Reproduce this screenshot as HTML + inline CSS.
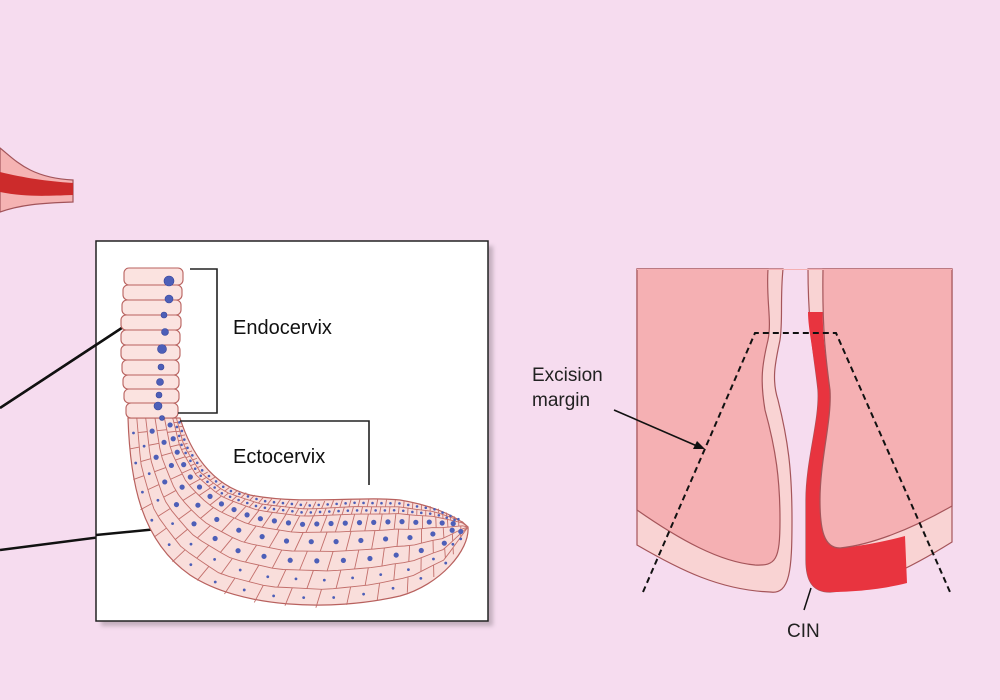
<!DOCTYPE html>
<html><head><meta charset="utf-8"><style>
html,body{margin:0;padding:0;background:#f6dcef;}
svg{display:block;font-family:"Liberation Sans",Arial,sans-serif;}
</style></head><body>
<svg id="s" width="1000" height="700" viewBox="0 0 1000 700" xmlns="http://www.w3.org/2000/svg">
<rect width="1000" height="700" fill="#f6dcef"/>
<!-- top-left funnel -->
<path d="M0,148 C15,160 30,178 73,180 L73,202 C40,203 20,205 0,212 Z" fill="#f5b3b3" stroke="#a2545a" stroke-width="1.2"/>
<path d="M0,172 C25,178 45,181 73,183 L73,195 C45,196 25,197 0,192 Z" fill="#cc2b2b"/>
<!-- leader lines -->
<line x1="0" y1="408" x2="137" y2="318" stroke="#111" stroke-width="2.5"/>
<line x1="0" y1="550" x2="178" y2="527" stroke="#111" stroke-width="2.5"/>
<!-- box -->
<rect x="101" y="246" width="392" height="380" fill="#9a8a96" opacity="0.55" filter="blur(2px)"/>
<rect x="96" y="241" width="392" height="380" fill="#fff" stroke="#222" stroke-width="1.5"/>
<line x1="0" y1="408" x2="137" y2="318" stroke="#111" stroke-width="2.5"/>
<line x1="96" y1="345" x2="137" y2="318" stroke="#111" stroke-width="2.5"/>
<line x1="96" y1="535" x2="178" y2="527" stroke="#111" stroke-width="2.5"/>
<!-- stratified band -->
<path id="band" d="M128,418 C130,480 140,540 190,575 C240,608 330,612 400,596 C440,585 470,550 468,527 C455,515 430,505 400,500 C360,496 300,505 250,495 C210,485 190,450 180,418 Z" fill="#f9dedb" stroke="#b8615e" stroke-width="1.2"/>
<g id="cells" stroke="#c26e6a" stroke-width="0.9" fill="none"></g>
<g id="dots" fill="#4d5fb8"></g>
<!-- columnar cells -->
<g fill="#fbe3e0" stroke="#b8615e" stroke-width="1.1">
<rect x="124" y="268" width="59" height="17" rx="5"/>
<rect x="123" y="285" width="59" height="15" rx="5"/>
<rect x="122" y="300" width="59" height="15" rx="5"/>
<rect x="121" y="315" width="60" height="15" rx="5"/>
<rect x="121" y="330" width="59" height="15" rx="5"/>
<rect x="121" y="345" width="59" height="15" rx="5"/>
<rect x="122" y="360" width="57" height="15" rx="5"/>
<rect x="123" y="375" width="56" height="14" rx="5"/>
<rect x="124" y="389" width="55" height="14" rx="5"/>
<rect x="126" y="403" width="52" height="15" rx="5"/>
</g>
<g fill="#4d5fb8" stroke="#35449a" stroke-width="0.6">
<circle cx="169" cy="281" r="5"/><circle cx="169" cy="299" r="4"/>
<circle cx="164" cy="315" r="3"/><circle cx="165" cy="332" r="3.5"/>
<circle cx="162" cy="349" r="4.5"/><circle cx="161" cy="367" r="3"/>
<circle cx="160" cy="382" r="3.5"/><circle cx="159" cy="395" r="3"/>
<circle cx="158" cy="406" r="4"/><circle cx="162" cy="418" r="2.5"/>
</g>
<!-- brackets -->
<polyline points="190,269 217,269 217,413 178,413" fill="none" stroke="#222" stroke-width="1.6"/>
<polyline points="180,421 369,421 369,485" fill="none" stroke="#222" stroke-width="1.6"/>
<text x="233" y="334" font-size="20" fill="#111">Endocervix</text>
<text x="233" y="463" font-size="20" fill="#111">Ectocervix</text>

<!-- right diagram -->
<path d="M637,269 L783,269 C780,300 783,320 780,340 C776,360 771,378 778,400 C788,440 792,470 792,520 C792,570 790,595 770,592 C720,590 680,570 637,545 Z" fill="#f9d3d3" stroke="#a5555a" stroke-width="1.2"/>
<path d="M637,269 L768,269 C766,300 772,320 768,340 C762,365 760,380 765,410 C776,450 780,480 780,520 C780,560 776,566 755,565 C720,562 680,540 637,510 Z" fill="#f5b0b3" stroke="#a5555a" stroke-width="1.2"/>
<path d="M808,269 L952,269 L952,542 C920,562 870,590 830,592 C812,592 806,580 806,560 L806,500 C806,460 820,420 818,390 C815,360 808,330 808,269 Z" fill="#f9d3d3" stroke="#a5555a" stroke-width="1.2"/>
<path d="M808,312 L823,312 C822,330 826,360 830,390 C832,420 820,460 820,500 C820,530 824,548 840,548 C870,545 890,540 905,536 L907,583 C880,590 850,592 830,592 C812,592 806,580 806,560 L806,500 C806,460 820,420 818,390 C815,360 808,330 808,312Z" fill="#e8343f"/>
<path d="M823,269 L952,269 L952,506 C910,530 870,545 840,548 C824,548 820,530 820,500 C820,460 832,420 830,390 C826,360 822,330 823,269Z" fill="#f5b0b3" stroke="#a5555a" stroke-width="1.2"/>
<rect x="637" y="269" width="315" height="1" fill="#f5b0b3"/>
<polyline points="643,592 755,333 836,333 950,592" fill="none" stroke="#111" stroke-width="2" stroke-dasharray="6,4"/>
<text x="532" y="381" font-size="19" fill="#222">Excision</text>
<text x="532" y="406" font-size="19" fill="#222">margin</text>
<line x1="614" y1="410" x2="697" y2="446" stroke="#111" stroke-width="1.6"/>
<polygon points="705,449 693,449 697,441" fill="#111"/>
<line x1="804" y1="610" x2="811" y2="588" stroke="#111" stroke-width="1.5"/>
<text x="787" y="637" font-size="19" fill="#222">CIN</text>
</svg>
<script>
(function(){
var NS="http://www.w3.org/2000/svg";
function P(t,a,b){return [a[0]+(b[0]-a[0])*t,a[1]+(b[1]-a[1])*t];}
// inner (top) and outer (bottom) polylines sampled
var inner=[[180,418],[188,445],[205,470],[230,488],[265,498],[310,502],[355,499],[400,500],[435,507],[462,520],[468,527]];
var outer=[[128,418],[131,470],[143,520],[170,560],[210,590],[260,604],[320,608],[370,602],[410,592],[445,570],[468,527]];
function samp(pts,u){var L=[0],tot=0;for(var i=1;i<pts.length;i++){tot+=Math.hypot(pts[i][0]-pts[i-1][0],pts[i][1]-pts[i-1][1]);L.push(tot);}
var d=u*tot;for(var i=1;i<pts.length;i++){if(L[i]>=d){var t=(d-L[i-1])/(L[i]-L[i-1]||1);return P(t,pts[i-1],pts[i]);}}return pts[pts.length-1];}
var cg=document.getElementById('cells'),dg=document.getElementById('dots');
var layers=[0,0.07,0.14,0.3,0.48,0.66,0.83,1];
var N=40;
for(var k=1;k<layers.length-1;k++){var d="";for(var i=0;i<=N;i++){var u=i/N;var a=samp(inner,u),b=samp(outer,u);var p=P(layers[k],a,b);d+=(i?"L":"M")+p[0].toFixed(1)+","+p[1].toFixed(1);}
var e=document.createElementNS(NS,'path');e.setAttribute('d',d);cg.appendChild(e);}
for(var k=0;k<layers.length-1;k++){var th=layers[k+1]-layers[k];var n=k<2?38:(k<3?26:16);
for(var i=0;i<n;i++){var off=(k%2)*0.5;var u=(i+off)/n;if(u>0.97)continue;var a=samp(inner,u),b=samp(outer,u);
var p1=P(layers[k],a,b),p2=P(layers[k+1],a,b);var l=document.createElementNS(NS,'line');
l.setAttribute('x1',p1[0]);l.setAttribute('y1',p1[1]);l.setAttribute('x2',p2[0]);l.setAttribute('y2',p2[1]);cg.appendChild(l);
var uc=(i+off+0.5)/n;if(uc>0.97)continue;var a2=samp(inner,uc),b2=samp(outer,uc);var c=P((layers[k]+layers[k+1])/2,a2,b2);
var dot=document.createElementNS(NS,'circle');dot.setAttribute('cx',c[0]);dot.setAttribute('cy',c[1]);dot.setAttribute('r',k<2?1.3:(k<5?2.6:1.4));dg.appendChild(dot);}}
})();
</script>
</body></html>
